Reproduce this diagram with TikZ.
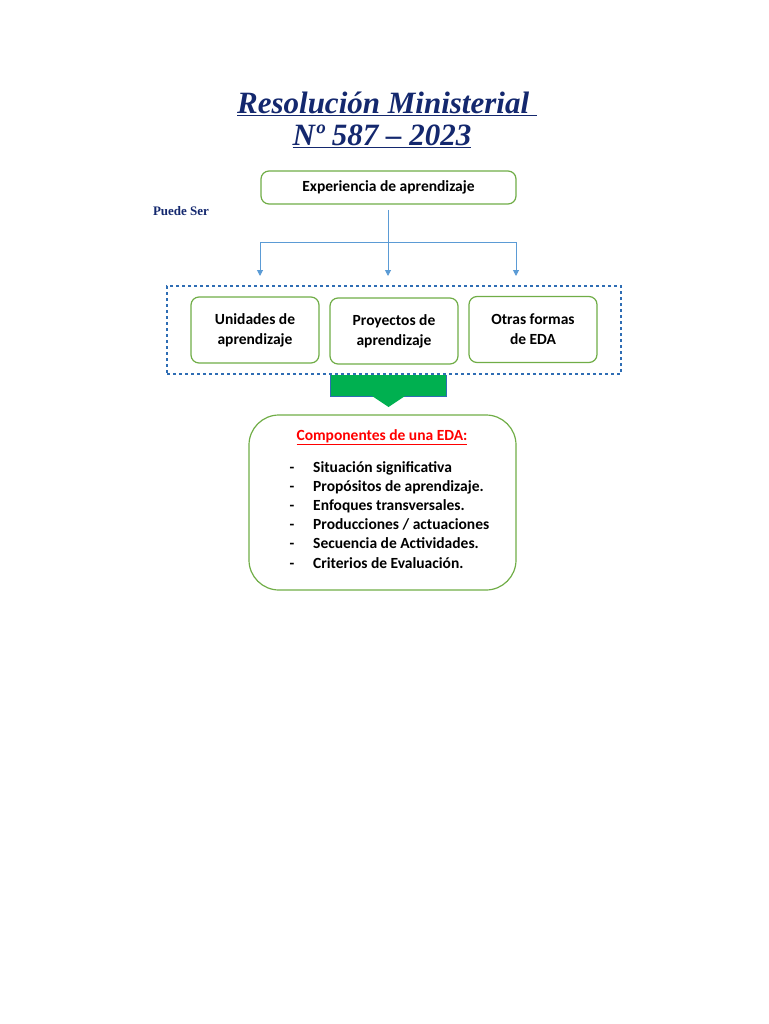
\documentclass[tikz,border=0pt]{standalone}
\usepackage{fontspec}
\setmainfont{Liberation Serif}
\newfontfamily\calfont{Carlito}
\usetikzlibrary{arrows.meta}
\definecolor{navy}{HTML}{14286E}
\definecolor{boxgreen}{HTML}{70AD47}
\definecolor{lblue}{HTML}{5B9BD5}
\definecolor{dblue}{HTML}{2E6DB4}
\definecolor{agreen}{HTML}{00B050}
\definecolor{ared}{HTML}{FF0000}
\tikzset{
  gbox/.style={draw=boxgreen, line width=1.2pt, rounded corners=8pt, fill=white, align=center, font=\calfont\bfseries\fontsize{15.5}{20}\selectfont},
  conn/.style={draw=lblue, line width=1pt, -{Triangle[length=6pt,width=6pt]}},
  line/.style={draw=lblue, line width=1pt},
  itemtxt/.style={font=\calfont\bfseries\fontsize{15.5}{18}\selectfont, inner sep=0pt},
}
\begin{document}
\begin{tikzpicture}[x=1pt,y=-1pt]
\useasboundingbox (0,0) rectangle (768,1024);
% title
\node[font=\bfseries\itshape\fontsize{31}{36}\selectfont, text=navy, anchor=center] (t1) at (387,104) {\underline{Resolución Ministerial\ }};
\node[font=\bfseries\itshape\fontsize{31}{36}\selectfont, text=navy, anchor=center] (t2) at (382,136) {\underline{Nº 587 – 2023}};
\node[font=\bfseries\fontsize{13}{15}\selectfont, text=navy] (ps) at (181,211) {Puede Ser};
% top box
\node[gbox, minimum width=255pt, minimum height=33pt] (exp) at (388.5,187.5) {Experiencia de aprendizaje};
% connectors
\coordinate (cs) at (388,210);
\coordinate (cm) at (388,242);
\coordinate (cl) at (260,242);
\coordinate (cr) at (516,242);
\coordinate (el) at (260,276);
\coordinate (ec) at (388,276);
\coordinate (er) at (516,276);
\draw[line] (cs) -- (cm);
\draw[line] (cl) -- (cr);
\draw[conn] (cm) -- (ec);
\draw[conn] (cl) -- (el);
\draw[conn] (cr) -- (er);
% dashed frame
\node[draw=dblue, dashed, line width=1.3pt, minimum width=454pt, minimum height=88pt] (frame) at (394,330) {};
% three boxes
\node[gbox, minimum width=128pt, minimum height=66pt] (u) at (255,330) {Unidades de\\aprendizaje};
\node[gbox, minimum width=128pt, minimum height=66pt] (p) at (394,331) {Proyectos de\\aprendizaje};
\node[gbox, minimum width=128pt, minimum height=66pt] (o) at (533,329.5) {Otras formas\\de EDA};
% green arrow
\draw[fill=agreen, draw=dblue, line width=0.8pt] (330,375) -- (330,396) -- (446,396) -- (446,375);
\fill[agreen] (331,375) rectangle (445,395.5);
\fill[agreen] (372,396) -- (405,396) -- (388.5,407) -- cycle;
% components box
\node[draw=boxgreen, line width=1.2pt, rounded corners=30pt, minimum width=267pt, minimum height=175pt] (comp) at (382.5,502.5) {};
\node[font=\calfont\bfseries\fontsize{15.5}{18}\selectfont, text=ared] (ct) at (382,437) {\underline{Componentes de una EDA:}};
\foreach \i/\t in {0/{Situación significativa},1/{Propósitos de aprendizaje.},2/{Enfoques transversales.},3/{Producciones / actuaciones},4/{Secuencia de Actividades.},5/{Criterios de Evaluación.}}{
  \node[itemtxt, anchor=base] (d\i) at (292,{472+19.2*\i}) {-};
  \node[itemtxt, anchor=base west] (b\i) at (313,{472+19.2*\i}) {\t};
}
\end{tikzpicture}
\end{document}
